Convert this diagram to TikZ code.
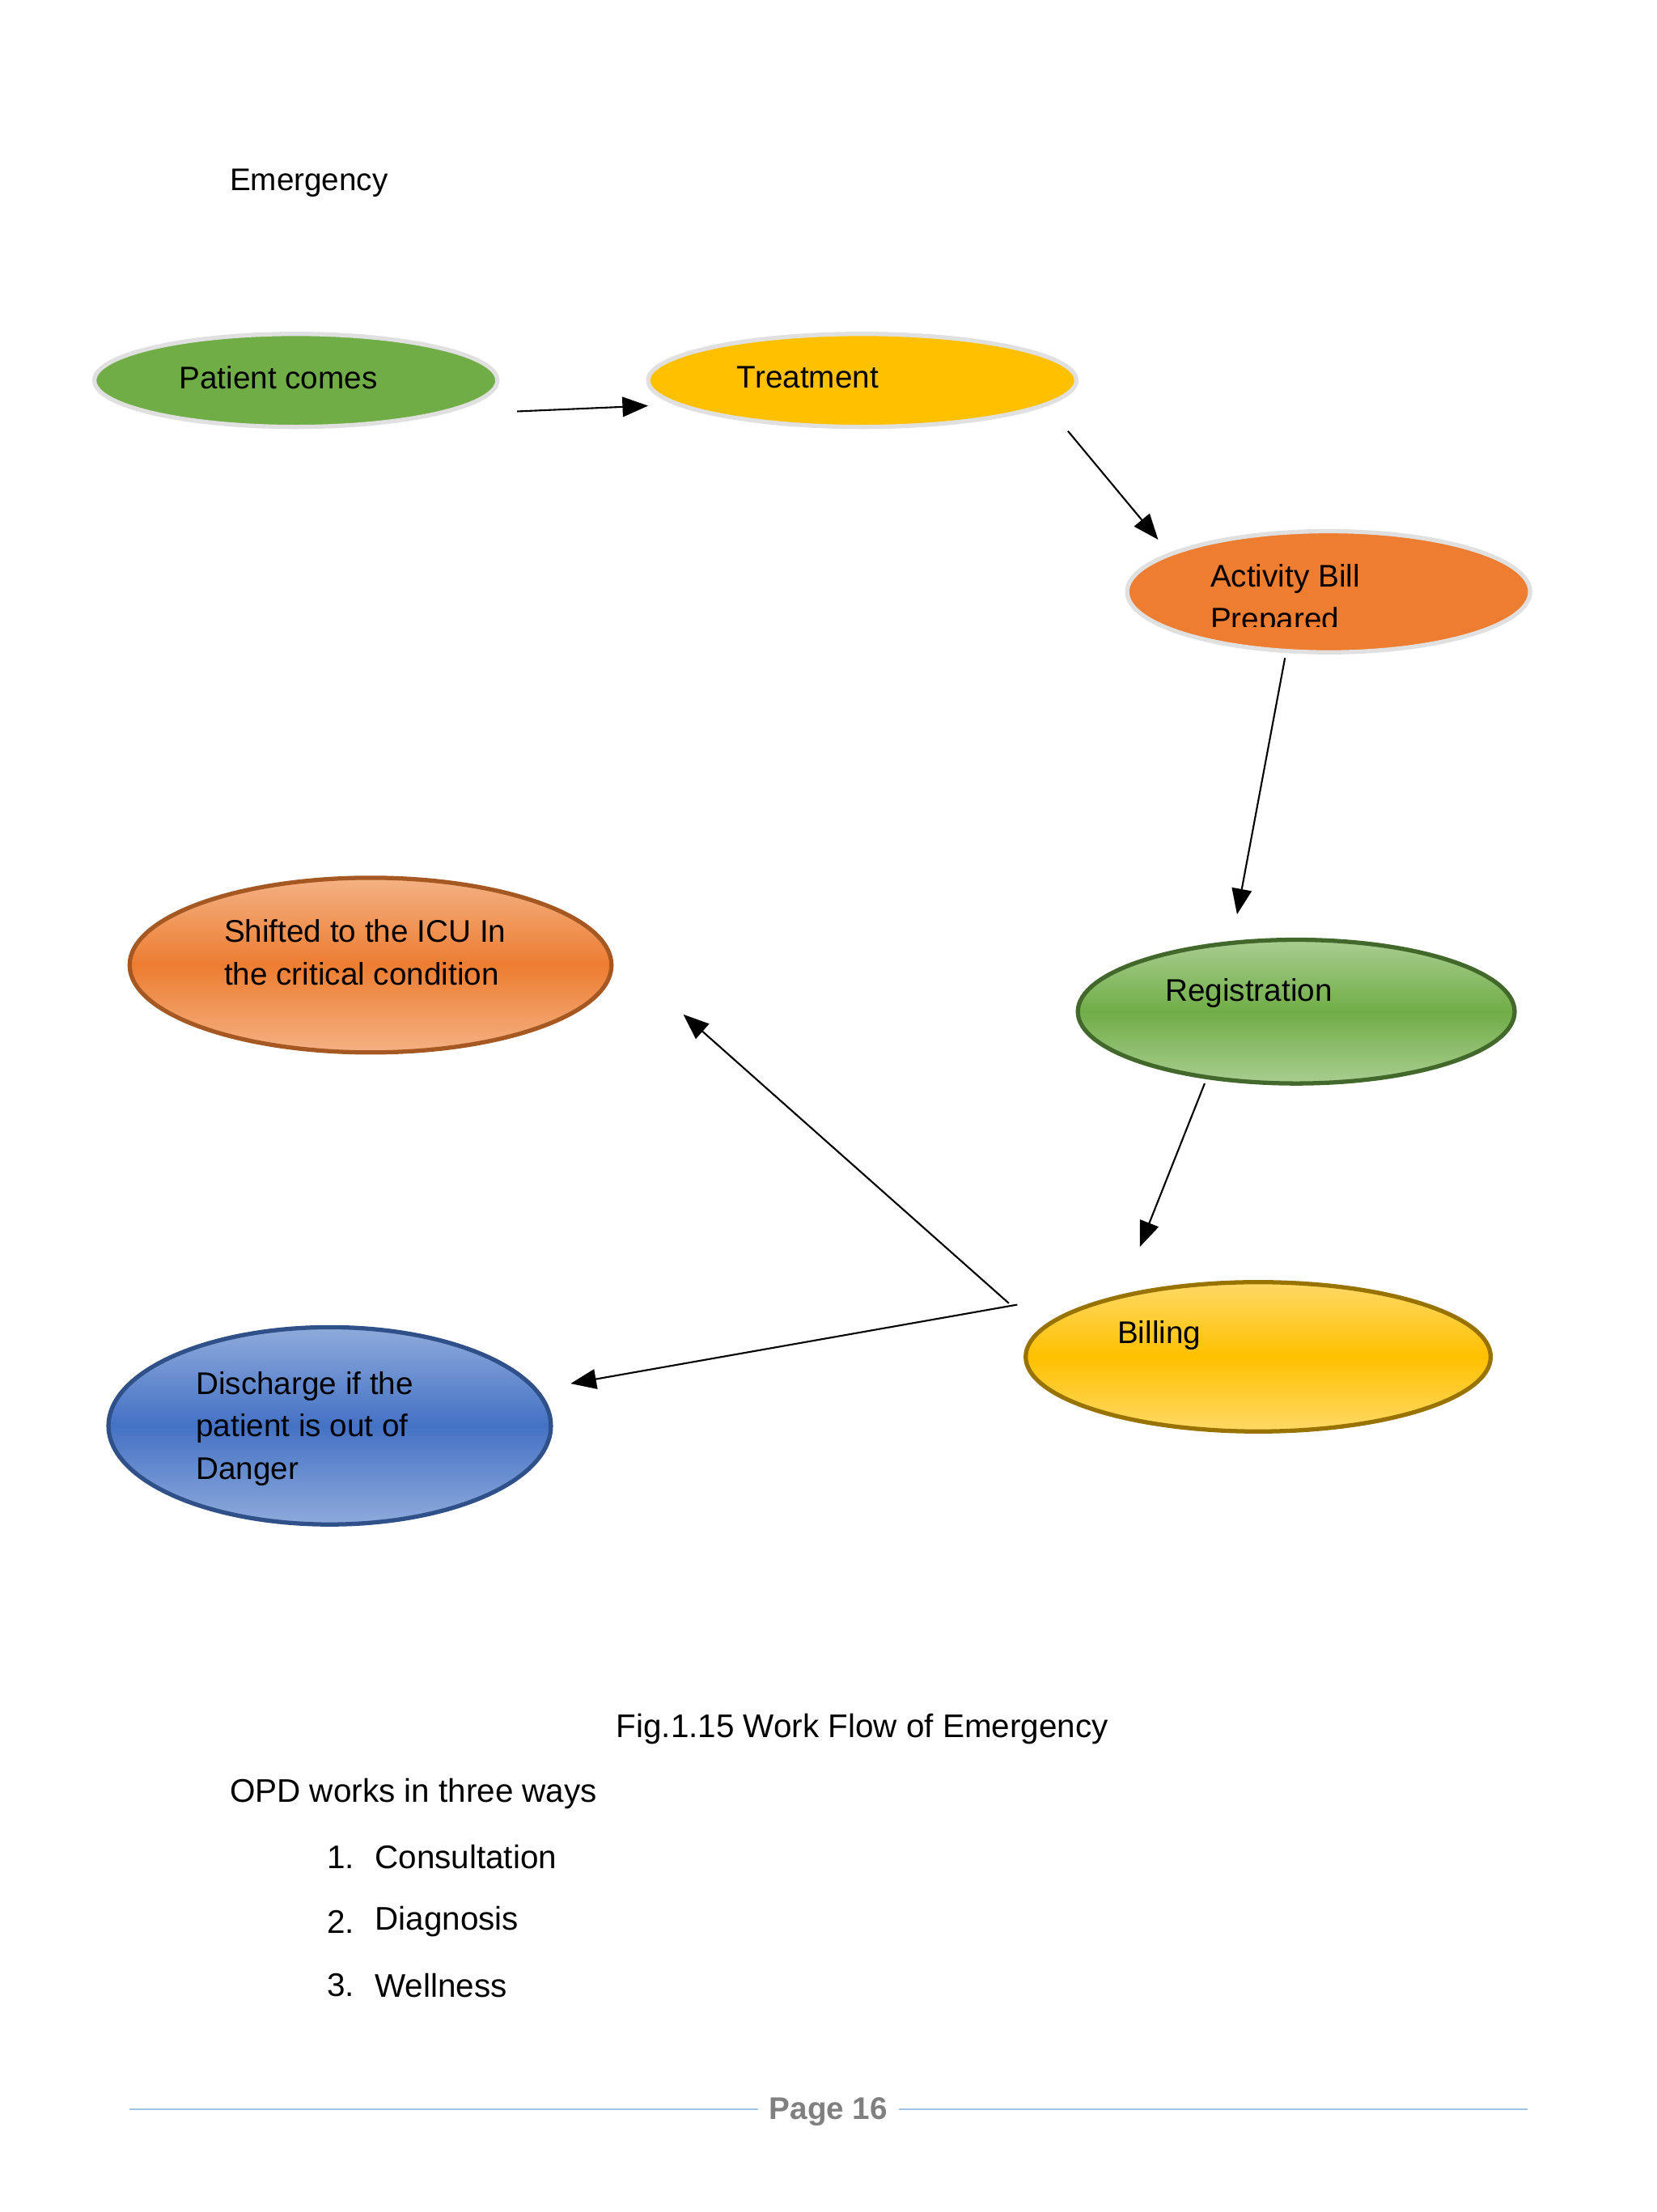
\documentclass[tikz,border=0pt]{standalone}
\usepackage{fontspec}
\setmainfont{Liberation Sans}
\usetikzlibrary{shapes.geometric,arrows.meta}
\definecolor{gr}{HTML}{70AD47}
\definecolor{yl}{HTML}{FFC000}
\definecolor{og}{HTML}{ED7D31}
\definecolor{bl}{HTML}{4472C4}
\definecolor{ft}{HTML}{9DC3E6}
\def\uu{0.017415cm}
\begin{document}
\begin{tikzpicture}[x=0.017415cm,y=-0.017415cm,
  el/.style={ellipse,draw=black!12,line width=1.5pt,inner sep=0pt},
  lbl/.style={anchor=west,font=\fontsize{11}{15}\selectfont,align=left},
  arr/.style={-{Triangle[length=9pt,width=7pt]},line width=0.6pt}]
\useasboundingbox (0,0) rectangle (1176,1570);
\node[lbl] (title) at (156,130) {Emergency};
% ellipses
\node[el,fill=gr,minimum width=286*\uu,minimum height=66*\uu] (pc) at (210,270) {};
\node[lbl] at (120,268) {Patient comes};
\node[el,fill=yl,minimum width=304*\uu,minimum height=66*\uu] (tr) at (612,270) {};
\node[lbl] at (516,268) {Treatment};
\node[el,fill=og,minimum width=286*\uu,minimum height=86*\uu] (ab) at (943,420) {};
\begin{scope}
\clip (790,380) rectangle (1100,445);
\node[lbl] at (852,426) {Activity Bill\\Prepared};
\end{scope}
\node[el,draw=og!70!black,top color=og!60!white,bottom color=og!60!white,middle color=og,minimum width=342*\uu,minimum height=124*\uu] (icu) at (263,685) {};
\node[lbl] at (152,676) {Shifted to the ICU In\\the critical condition};
\node[el,draw=gr!60!black,top color=gr!60!white,bottom color=gr!60!white,middle color=gr,minimum width=310*\uu,minimum height=102*\uu] (reg) at (920,718) {};
\node[lbl] at (820,705) {Registration};
\node[el,draw=yl!60!black,top color=yl!60!white,bottom color=yl!60!white,middle color=yl,minimum width=330*\uu,minimum height=106*\uu] (bil) at (893,963) {};
\node[lbl] at (786,948) {Billing};
\node[el,draw=bl!70!black,top color=bl!60!white,bottom color=bl!60!white,middle color=bl,minimum width=314*\uu,minimum height=140*\uu] (dis) at (234,1012) {};
\node[lbl] at (132,1014) {Discharge if the\\patient is out of\\Danger};
% connector endpoints
\coordinate (a1) at (367,292); \coordinate (a2) at (460,288);
\coordinate (b1) at (758,306); \coordinate (b2) at (822,383);
\coordinate (c1) at (912,467); \coordinate (c2) at (878,649);
\coordinate (d1) at (855,769); \coordinate (d2) at (809,885);
\coordinate (e0) at (722,926); \coordinate (e1) at (716,925);
\coordinate (e2) at (405,982); \coordinate (f2) at (485,720);
\draw[arr] (a1) -- (a2);
\draw[arr] (b1) -- (b2);
\draw[arr] (c1) -- (c2);
\draw[arr] (d1) -- (d2);
\draw[arr] (e0) -- (e2);
\draw[arr] (e1) -- (f2);
% text below
\node[font=\fontsize{11.5}{14}\selectfont] (cap) at (612,1227) {Fig.1.15 Work Flow of Emergency};
\node[lbl,font=\fontsize{11.5}{14}\selectfont] (opd) at (156,1273) {OPD works in three ways};
\node[lbl,font=\fontsize{11.5}{14}\selectfont] (n1) at (225,1318) {1.};
\node[lbl,font=\fontsize{11.5}{14}\selectfont] (t1) at (259,1318) {Consultation};
\node[lbl,font=\fontsize{11.5}{14}\selectfont] (n2) at (225,1364) {2.};
\node[lbl,font=\fontsize{11.5}{14}\selectfont] (t2) at (259,1364) {Diagnosis};
\node[lbl,font=\fontsize{11.5}{14}\selectfont] (n3) at (225,1409) {3.};
\node[lbl,font=\fontsize{11.5}{14}\selectfont] (t3) at (259,1409) {Wellness};
\draw[ft,line width=0.5pt] (92,1497) -- (538,1497);
\draw[ft,line width=0.5pt] (638,1497) -- (1084,1497);
\node[font=\fontsize{11}{13}\selectfont\bfseries,text=black!50] (pg) at (588,1499) {Page 16};
\end{tikzpicture}
\end{document}
